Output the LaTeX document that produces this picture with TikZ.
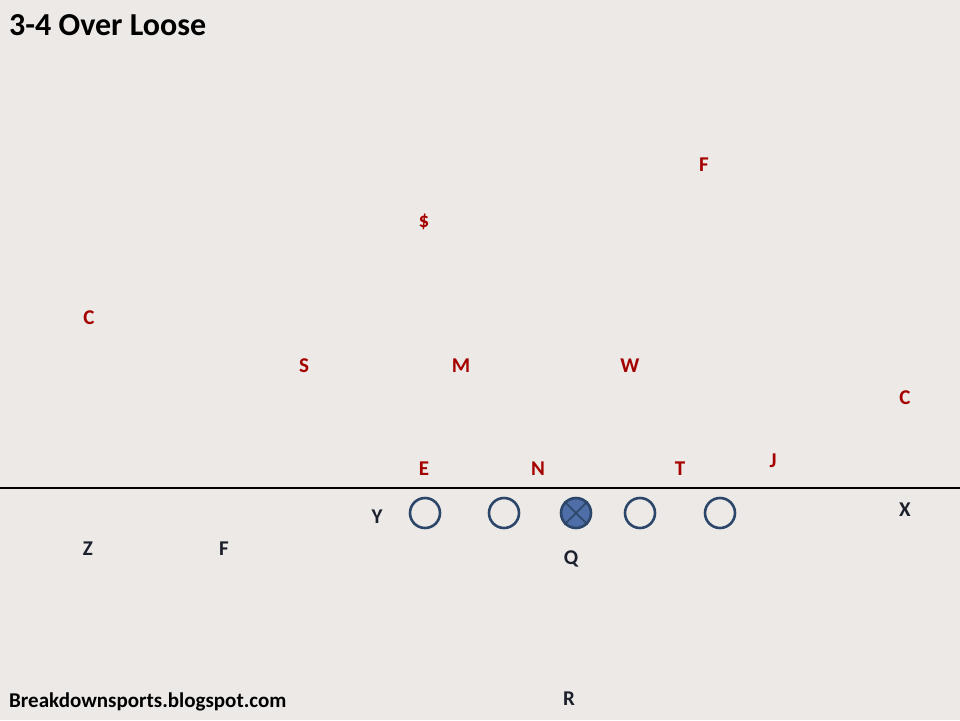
\documentclass[tikz,border=0pt]{standalone}
\usepackage{fontspec}
\setmainfont{Carlito}
\definecolor{bg}{RGB}{236,233,231}
\definecolor{def}{RGB}{165,0,0}
\definecolor{off}{RGB}{28,32,44}
\definecolor{ring}{RGB}{44,70,105}
\definecolor{qfill}{RGB}{79,110,168}
\tikzset{
  defl/.style={text=def,font=\fontsize{21}{24}\selectfont\bfseries,inner sep=0pt},
  offl/.style={text=off,font=\fontsize{21}{24}\selectfont\bfseries,inner sep=0pt},
  lineman/.style={circle,draw=ring,line width=2.6pt,minimum size=30pt,inner sep=0pt},
  center/.style={lineman,fill=qfill},
  caption/.style={text=black,font=\fontsize{#1}{#1}\selectfont\bfseries,inner sep=0pt,anchor=west}
}
\begin{document}
\begin{tikzpicture}[x=1pt,y=-1pt]
\fill[bg] (0,0) rectangle (960,720);
\useasboundingbox (0,0) rectangle (960,720);
\node[caption=32] (title) at (9,25) {3-4 Over Loose};
\node[caption=21] (site) at (9,702) {Breakdownsports.blogspot.com};
\coordinate (lL) at (0,488);
\coordinate (lR) at (960,488);
\draw[line width=2.8pt,black] (lL) -- (lR);
% offense line
\node[lineman] (lt) at (425,513) {};
\node[lineman] (lg) at (504,513) {};
\node[center] (c) at (576,513) {};
\draw[ring,line width=1.6pt] (c.north west) -- (c.south east) (c.north east) -- (c.south west);
\node[lineman] (rg) at (640,513) {};
\node[lineman] (rt) at (720,513) {};
% offense labels
\node[offl] (y) at (377,517) {Y};
\node[offl] (x) at (905,510) {X};
\node[offl] (z) at (88,549) {Z};
\node[offl] (fb) at (224,549) {F};
\node[offl] (q) at (571,559) {Q};
\node[offl] (r) at (569,699) {R};
% defense labels
\node[defl] (fs) at (704,165) {F};
\node[defl] (ss) at (424,222) {\$};
\node[defl] (cl) at (89,318) {C};
\node[defl] (s) at (304,366) {S};
\node[defl] (m) at (461,366) {M};
\node[defl] (w) at (630,366) {W};
\node[defl] (cr) at (905,398) {C};
\node[defl] (e) at (424,469) {E};
\node[defl] (n) at (538,469) {N};
\node[defl] (t) at (680,469) {T};
\node[defl] (j) at (773,461) {J};
\end{tikzpicture}
\end{document}
